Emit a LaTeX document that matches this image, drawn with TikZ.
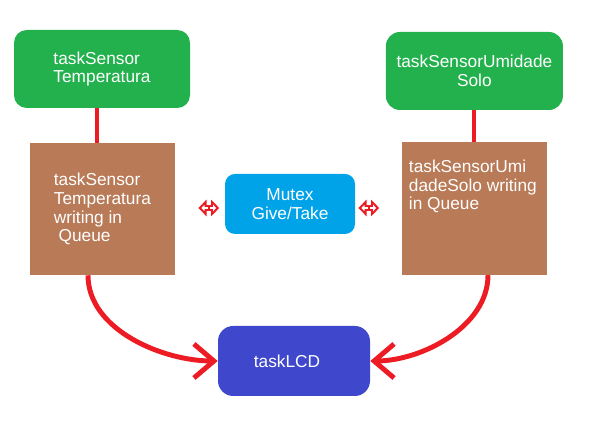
\documentclass[tikz,border=0pt]{standalone}
\usepackage{fontspec}
\setmainfont{Liberation Sans}
\usepackage{tikz}
\usetikzlibrary{arrows.meta}

\definecolor{taskgreen}{HTML}{22B14C}
\definecolor{queuebrown}{HTML}{B97A57}
\definecolor{mutexblue}{HTML}{00A2E8}
\definecolor{lcdblue}{HTML}{3F48CC}
\definecolor{linkred}{HTML}{ED1C24}

\tikzset{
  txt/.style={text=white,font=\fontsize{12.3pt}{13.4pt}\selectfont},
  taskbox/.style={txt,fill=taskgreen,rounded corners=0.32cm,minimum width=4.4cm,minimum height=1.95cm},
  queuebox/.style={txt,fill=queuebrown,minimum width=3.625cm,minimum height=3.3cm},
  redline/.style={draw=linkred,line width=2.9pt},
  redcurve/.style={draw=linkred,line width=3.5pt,-{Straight Barb[length=0.5cm,width=0.85cm]}},
  mutexlink/.style={draw=linkred,fill=white,line width=1.4pt,line join=miter}
}

\newcommand{\giveTakeMark}[1]{%
  \draw[mutexlink,shift={(#1)}] (-0.225,0) -- (-0.08,0.15) -- (-0.08,0.05) -- (0.08,0.05)
    -- (0.08,0.15) -- (0.225,0) -- (0.08,-0.15) -- (0.08,-0.05) -- (-0.08,-0.05)
    -- (-0.08,-0.15) -- cycle;
  \draw[draw=linkred,line width=1.4pt,shift={(#1)}] (0,0.07) -- (0,-0.07);}

\begin{document}
\begin{tikzpicture}
\useasboundingbox[fill=white] (0,0) rectangle (14.8,10.6);

\node[taskbox,align=left] (tempTask) at (2.55,8.875) {taskSensor\\Temperatura};
\node[taskbox,align=center,minimum width=4.425cm,rounded corners=0.35cm] (soloTask) at (11.86,8.825) {taskSensorUmidade\\Solo};

\node[queuebox,align=left] (tempQueue) at (2.56,5.375) {taskSensor\\Temperatura\\writing in\\\ Queue};
\node[queuebox,minimum height=3.325cm] (soloQueue) at (11.86,5.39) {};
\node[txt,align=left,anchor=north west] (soloQueueText) at (10.1,6.73) {taskSensorUmi\\dadeSolo writing\\in Queue};

\node[txt,fill=mutexblue,rounded corners=0.25cm,minimum width=3.25cm,minimum height=1.5cm,align=center] (mutex) at (7.25,5.5) {Mutex\\Give/Take};

\node[txt,fill=lcdblue,rounded corners=0.38cm,minimum width=3.8cm,minimum height=1.75cm] (lcd) at (7.35,1.575) {\hspace{-0.35cm}taskLCD};

\draw[redline] (tempTask.south -| 2.43,0) -- (tempQueue.north -| 2.43,0);
\draw[redline] (soloTask.south) -- (soloQueue.north);

\coordinate (tempLink) at (5.22,5.4);
\coordinate (soloLink) at (9.22,5.4);
\giveTakeMark{tempLink}
\giveTakeMark{soloLink}

\draw[redcurve] (tempQueue.south -| 2.2,0) to[out=-90,in=180,looseness=0.9] (lcd.west);
\draw[redcurve] (soloQueue.south -| 12.2,0) to[out=-90,in=0,looseness=0.9] (lcd.east);
\end{tikzpicture}
\end{document}
